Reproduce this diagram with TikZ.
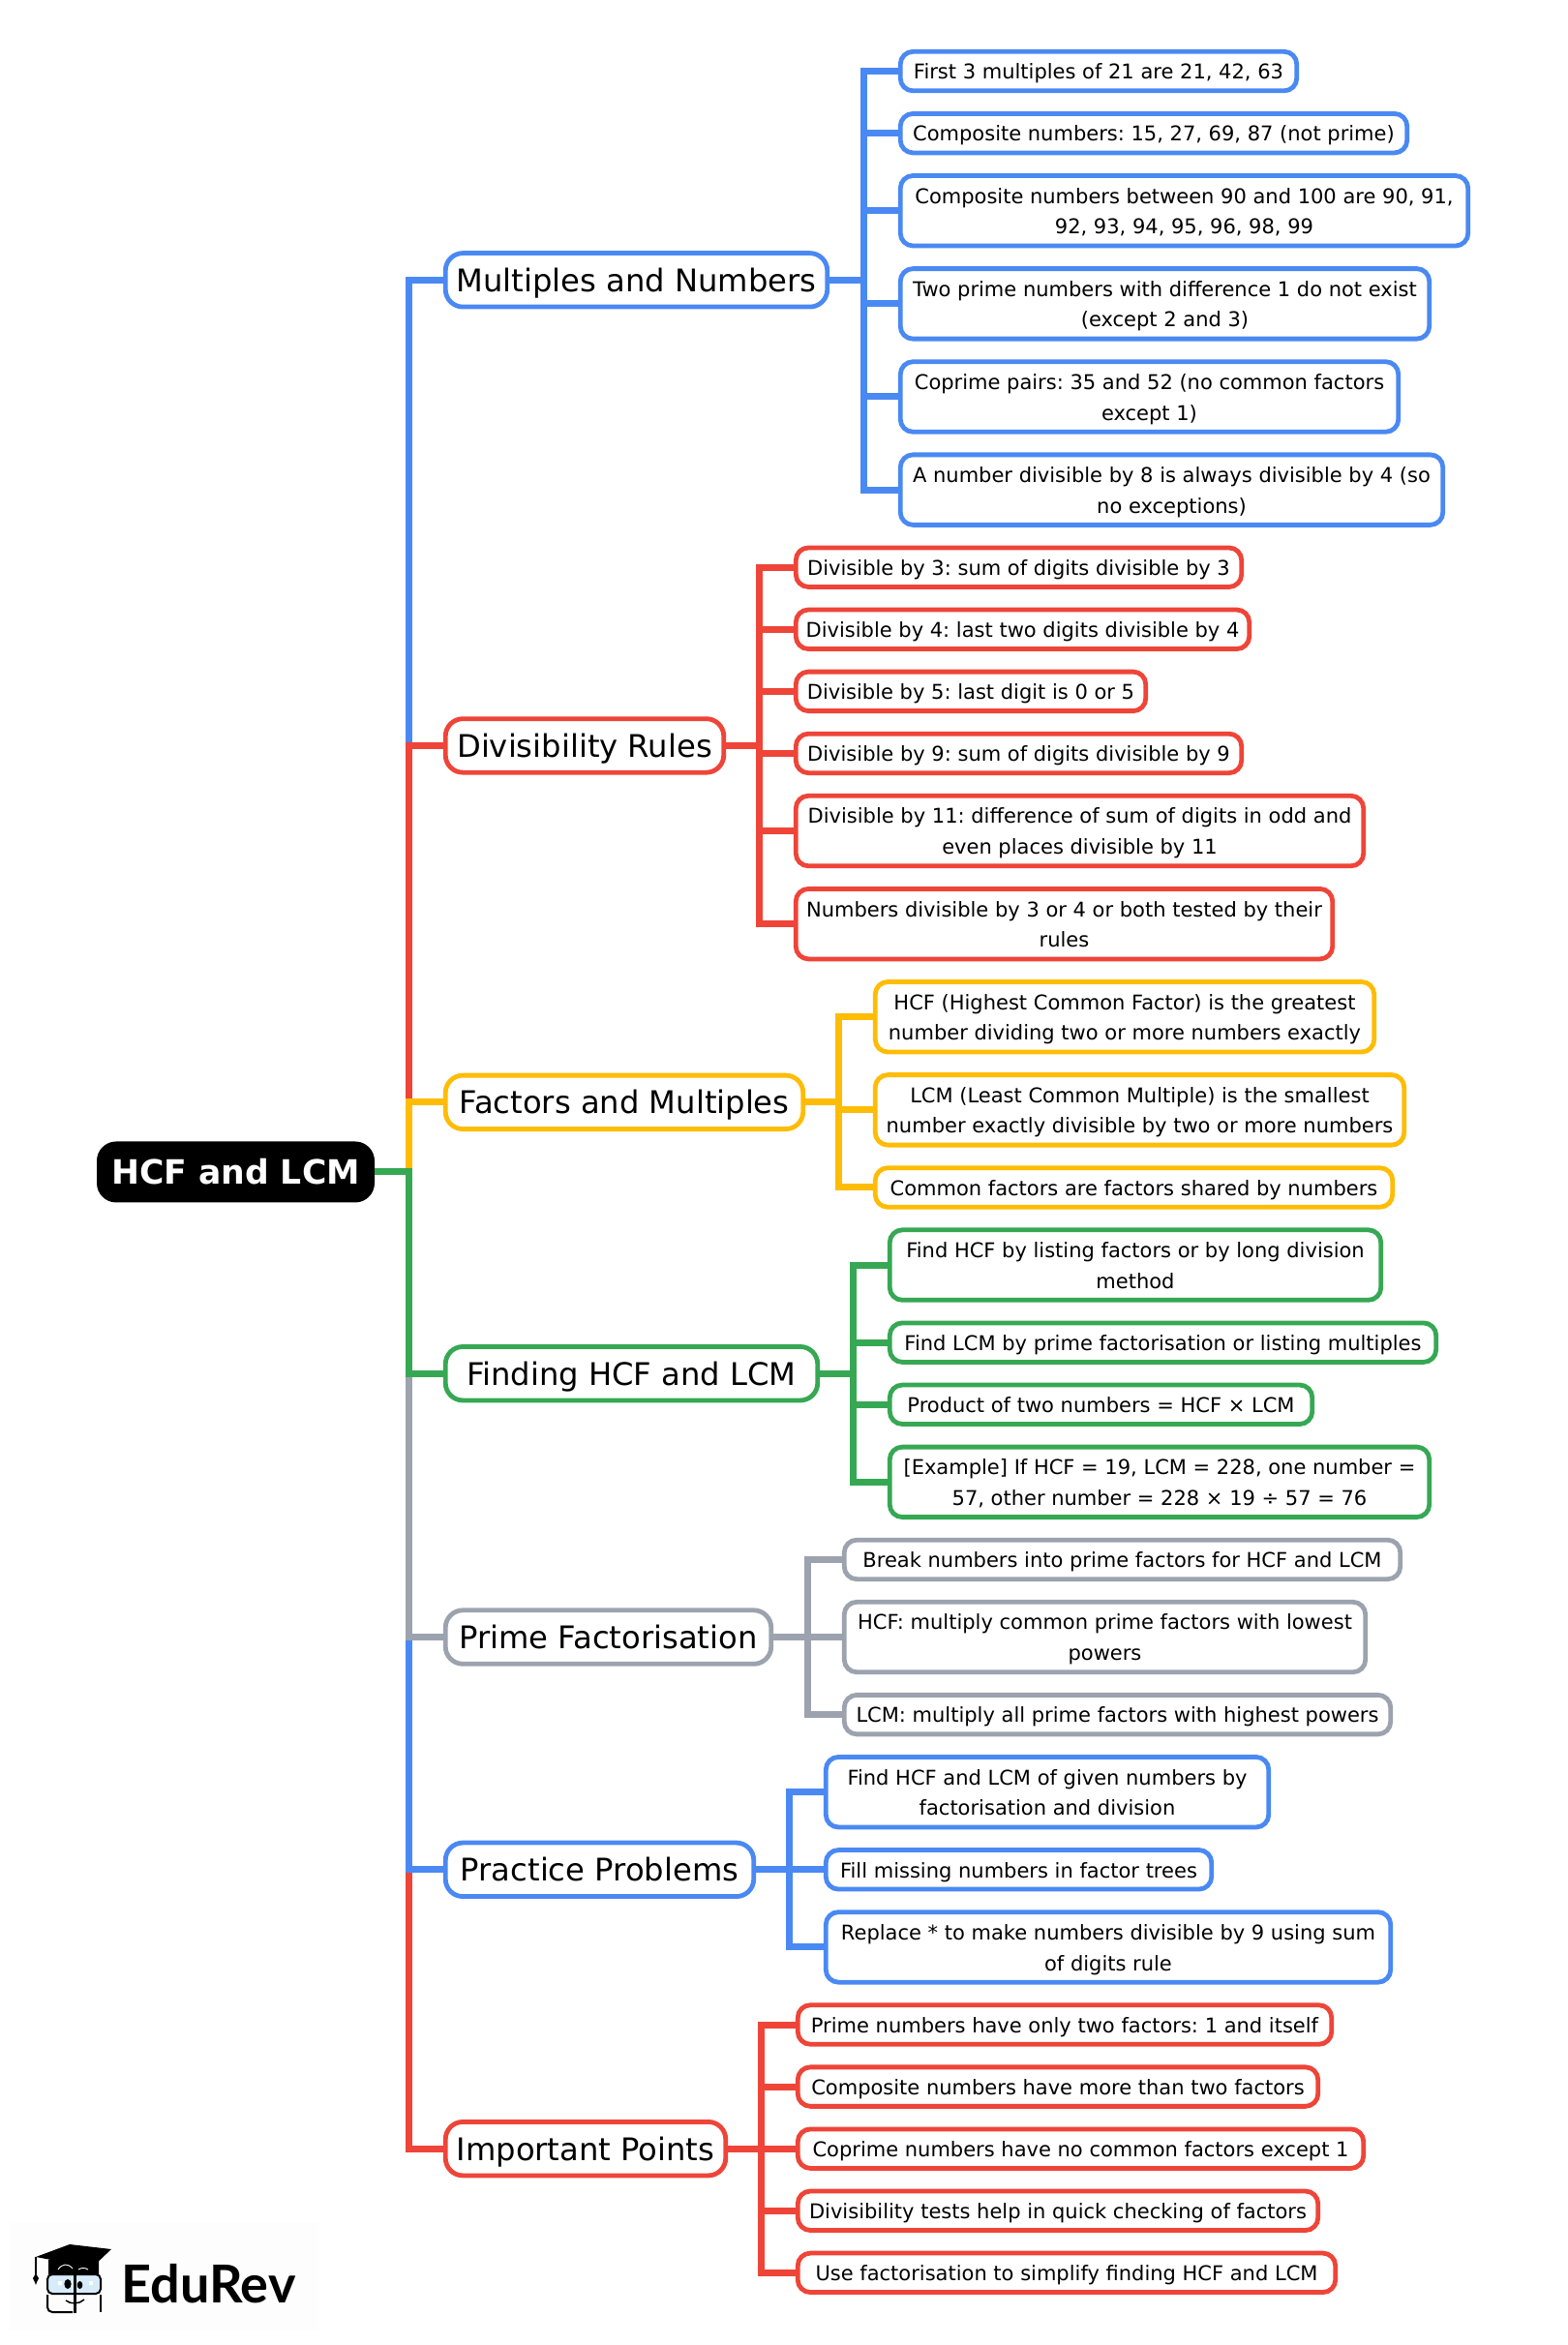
\documentclass[tikz,border=0pt]{standalone}
\usepackage{fontspec}
\setmainfont{DejaVu Sans}
\newfontfamily\logofont{Lato}
\frenchspacing
\definecolor{cblue}{HTML}{4A89F3}
\definecolor{cred}{HTML}{EF4438}
\definecolor{cyellow}{HTML}{FFBC05}
\definecolor{cgreen}{HTML}{36A853}
\definecolor{cgray}{HTML}{9CA3AF}
\definecolor{logofill}{HTML}{D6ECFA}
\definecolor{logobg}{HTML}{FDFDFD}
\tikzset{
  rootbox/.style={fill=black,text=white,rounded corners=20pt,minimum height=63pt,inner sep=0pt,align=center,
    font=\fontsize{34.6}{40}\selectfont\bfseries,execute at begin node={\rule[-14pt]{0pt}{53pt}}},
  branchbox/.style={draw=#1,fill=white,line width=4.8pt,rounded corners=18pt,minimum height=55.5pt,inner sep=0pt,align=center,
    font=\fontsize{32.2}{40}\selectfont,execute at begin node={\rule[-14pt]{0pt}{52pt}}},
  leafbox/.style={draw=#1,fill=white,line width=4.8pt,rounded corners=13pt,inner sep=0pt,align=center,
    font=\fontsize{21}{31.7}\selectfont},
  oneline/.style={minimum height=40.5pt,execute at begin node={\rule[-7pt]{0pt}{30.5pt}}},
  twoline/.style={minimum height=72.5pt,execute at begin node={\rule[-7.8pt]{0pt}{63.8pt}}},
  wire/.style={draw=#1,line width=7pt,miter limit=10},
}
\newcommand{\spine}[4]{% colour, spine coordinate, branch, leaf list
  \foreach \leafname in {#4}{\draw[wire=#1] (#3.east) -- (#3.east -| #2) |- (\leafname.west);}
}
\begin{document}
\begin{tikzpicture}[x=1pt,y=-1.0012pt]
\useasboundingbox (0,0) rectangle (1620,2420.1);
\fill[white] (0,0) rectangle (1620,2420.1);
\coordinate (trunk) at (422.5,0);
\coordinate (spM) at (892.5,0);
\coordinate (spD) at (784,0);
\coordinate (spF) at (866,0);
\coordinate (spH) at (881.5,0);
\coordinate (spP) at (834,0);
\coordinate (spQ) at (815.5,0);
\coordinate (spI) at (786,0);
% nodes
\node[rootbox,minimum width=287pt] (root) at (243.5,1209.5) {HCF and LCM};
\node[branchbox=cblue,minimum width=394.5pt] (bM) at (657.5,289) {Multiples and Numbers};
\node[branchbox=cred,minimum width=287.5pt] (bD) at (604,769.5) {Divisibility Rules};
\node[branchbox=cyellow,minimum width=369.5pt] (bF) at (645,1137.5) {Factors and Multiples};
\node[branchbox=cgreen,minimum width=384.5pt] (bH) at (652.5,1417.5) {Finding HCF and LCM};
\node[branchbox=cgray,minimum width=336.5pt] (bP) at (628.5,1689.5) {Prime Factorisation};
\node[branchbox=cblue,minimum width=318.5pt] (bQ) at (619.5,1929.5) {Practice Problems};
\node[branchbox=cred,minimum width=289.5pt] (bI) at (605,2217.5) {Important Points};
% leaves: multiples
\node[leafbox=cblue,oneline,minimum width=409.5pt] (m1) at (1135,73.5) {First 3 multiples of 21 are 21, 42, 63};
\node[leafbox=cblue,oneline,minimum width=523.5pt] (m2) at (1192,137.5) {Composite numbers: 15, 27, 69, 87 (not prime)};
\node[leafbox=cblue,twoline,minimum width=586.5pt] (m3) at (1223.5,217.5) {Composite numbers between 90 and 100 are 90, 91,\\92, 93, 94, 95, 96, 98, 99};
\node[leafbox=cblue,twoline,minimum width=546.5pt] (m4) at (1203.5,313.5) {Two prime numbers with difference 1 do not exist\\(except 2 and 3)};
\node[leafbox=cblue,twoline,minimum width=514.5pt] (m5) at (1187.5,409.5) {Coprime pairs: 35 and 52 (no common factors\\except 1)};
\node[leafbox=cblue,twoline,minimum width=560.5pt] (m6) at (1210.5,505.5) {A number divisible by 8 is always divisible by 4 (so\\no exceptions)};
% divisibility
\node[leafbox=cred,oneline,minimum width=460.5pt] (d1) at (1052.5,585.5) {Divisible by 3: sum of digits divisible by 3};
\node[leafbox=cred,oneline,minimum width=468.5pt] (d2) at (1056.5,649.5) {Divisible by 4: last two digits divisible by 4};
\node[leafbox=cred,oneline,minimum width=361.5pt] (d3) at (1003,713.5) {Divisible by 5: last digit is 0 or 5};
\node[leafbox=cred,oneline,minimum width=460.5pt] (d4) at (1052.5,777.5) {Divisible by 9: sum of digits divisible by 9};
\node[leafbox=cred,twoline,minimum width=586.5pt] (d5) at (1115.5,857.5) {Divisible by 11: difference of sum of digits in odd and\\even places divisible by 11};
\node[leafbox=cred,twoline,minimum width=554.5pt] (d6) at (1099.5,953.5) {Numbers divisible by 3 or 4 or both tested by their\\rules};
% factors
\node[leafbox=cyellow,twoline,minimum width=515.5pt] (f1) at (1162,1049.5) {HCF (Highest Common Factor) is the greatest\\number dividing two or more numbers exactly};
\node[leafbox=cyellow,twoline,minimum width=546.5pt] (f2) at (1177.5,1145.5) {LCM (Least Common Multiple) is the smallest\\number exactly divisible by two or more numbers};
\node[leafbox=cyellow,oneline,minimum width=534.5pt] (f3) at (1171.5,1225.5) {Common factors are factors shared by numbers};
% finding
\node[leafbox=cgreen,twoline,minimum width=507.5pt] (h1) at (1173,1305.5) {Find HCF by listing factors or by long division\\method};
\node[leafbox=cgreen,oneline,minimum width=564.5pt] (h2) at (1201.5,1385.5) {Find LCM by prime factorisation or listing multiples};
\node[leafbox=cgreen,oneline,minimum width=436.5pt] (h3) at (1137.5,1449.5) {Product of two numbers = HCF × LCM};
\node[leafbox=cgreen,twoline,minimum width=557.5pt] (h4) at (1198,1529.5) {[Example] If HCF = 19, LCM = 228, one number =\\57, other number = 228 × 19 ÷ 57 = 76};
% prime
\node[leafbox=cgray,oneline,minimum width=574.5pt] (p1) at (1159.5,1609.5) {Break numbers into prime factors for HCF and LCM};
\node[leafbox=cgray,twoline,minimum width=538.5pt] (p2) at (1141.5,1689.5) {HCF: multiply common prime factors with lowest\\powers};
\node[leafbox=cgray,oneline,minimum width=564.5pt] (p3) at (1154.5,1769.5) {LCM: multiply all prime factors with highest powers};
% practice
\node[leafbox=cblue,twoline,minimum width=457.5pt] (q1) at (1082,1849.5) {Find HCF and LCM of given numbers by\\factorisation and division};
\node[leafbox=cblue,oneline,minimum width=398.5pt] (q2) at (1052.5,1929.5) {Fill missing numbers in factor trees};
\node[leafbox=cblue,twoline,minimum width=583.5pt] (q3) at (1145,2009.5) {Replace * to make numbers divisible by 9 using sum\\of digits rule};
% important
\node[leafbox=cred,oneline,minimum width=551.5pt] (i1) at (1100,2089.5) {Prime numbers have only two factors: 1 and itself};
\node[leafbox=cred,oneline,minimum width=537.5pt] (i2) at (1093,2153.5) {Composite numbers have more than two factors};
\node[leafbox=cred,oneline,minimum width=584.5pt] (i3) at (1116.5,2217.5) {Coprime numbers have no common factors except 1};
\node[leafbox=cred,oneline,minimum width=537.5pt] (i4) at (1093,2281.5) {Divisibility tests help in quick checking of factors};
\node[leafbox=cred,oneline,minimum width=555.5pt] (i5) at (1102,2345.5) {Use factorisation to simplify finding HCF and LCM};
% connectors
\foreach \col/\br in {cblue/bM,cred/bD,cred/bI,cblue/bQ,cgray/bP,cyellow/bF,cgreen/bH}{
  \draw[wire=\col] (root.east) -- (root.east -| trunk) |- (\br.west);
}
\spine{cblue}{spM}{bM}{m1,m2,m3,m4,m5,m6}
\spine{cred}{spD}{bD}{d1,d2,d3,d4,d5,d6}
\spine{cyellow}{spF}{bF}{f1,f2,f3}
\spine{cgreen}{spH}{bH}{h1,h2,h3,h4}
\spine{cgray}{spP}{bP}{p1,p2,p3}
\spine{cblue}{spQ}{bQ}{q1,q2,q3}
\spine{cred}{spI}{bI}{i1,i2,i3,i4,i5}
% logo
\begin{scope}[y=-1pt]
\fill[logobg] (10,2297) rectangle (330,2408);
\draw[black,line width=1.6pt] (37,2332) -- (37,2350);
\fill[black] (37,2349) -- (40,2354) -- (38,2358) -- (37,2361) -- (36,2358) -- (34,2354) -- cycle;
\fill[black] (50,2335) -- (102,2333) -- (102,2350) -- (50,2350) -- cycle;
\fill[black] (37,2332) -- (72,2319) -- (115,2324) -- (95,2343) -- cycle;
\draw[white,line width=0.9pt] (60,2345) .. controls (64,2339) and (70,2338) .. (75,2344);
\draw[white,line width=0.9pt] (81,2345) .. controls (84,2343) and (88,2343) .. (91,2345);
\draw[black,fill=logofill,line width=2pt,rounded corners=5pt] (49,2350) rectangle (104,2370);
\draw[black,line width=2pt,rounded corners=5pt] (49,2371) -- (49,2389) -- (75,2389);
\draw[black,line width=2pt,rounded corners=4pt] (104,2371) -- (104,2389);
\draw[black,line width=2.5pt] (77.5,2347) -- (77.5,2390);
\fill[white] (60,2357) rectangle (64,2361) (92,2357) rectangle (96,2361);
\fill[black] (70,2360) ellipse (3.6pt and 5pt);
\fill[black] (82.5,2361) ellipse (2.8pt and 4pt);
\draw[black,line width=1.5pt] (68,2377) .. controls (73,2381) and (82,2381) .. (87,2376);
\node[anchor=base west,inner sep=0pt,font=\logofont\fontsize{54}{60}\selectfont\bfseries] (logo) at (125,2379) {EduRev};
\end{scope}
\end{tikzpicture}
\end{document}
